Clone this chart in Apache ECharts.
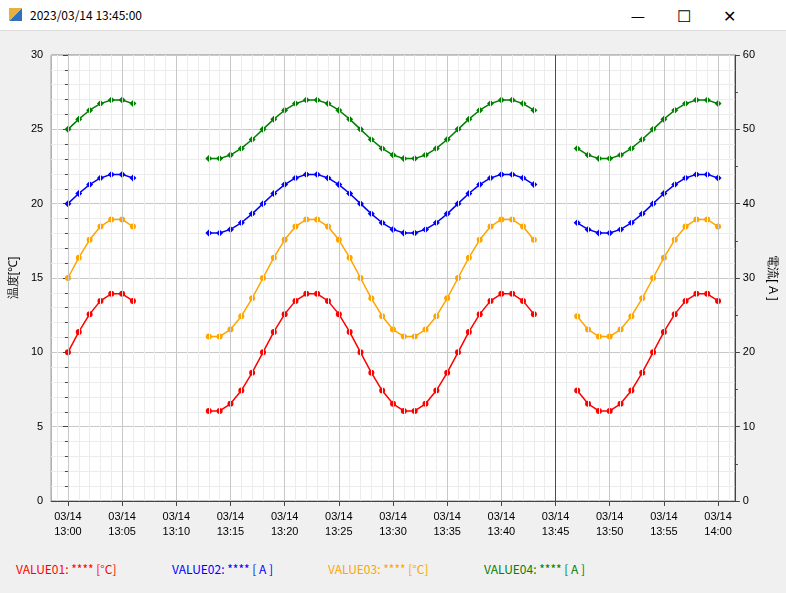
<!DOCTYPE html>
<html>
<head>
  <meta charset="utf-8">
  <script src="https://cdn.jsdelivr.net/npm/echarts@6/dist/echarts.min.js"></script>
  <style>
    body { margin: 0; width: 786px; height: 593px; background: #f0f0f0; font-family: "Noto Sans CJK JP", "Noto Sans", sans-serif; overflow: hidden; }
    .titlebar { height: 30px; background: #fff; border-bottom: 1px solid #ddd; font-size: 12px; line-height: 30px; padding-left: 30px; position: relative; }
    .titlebar .ico { position: absolute; left: 9px; top: 8px; width: 13px; height: 13px; background: linear-gradient(135deg, #e8b040 50%, #3070c0 50%); }
    .titlebar .btns { position: absolute; right: 18px; top: 0; font-size: 16px; letter-spacing: 32px; }
    #chart { width: 786px; height: 515px; }
    .legend { position: absolute; top: 560px; font-size: 12px; }
  </style>
</head>
<body>
  <div class="titlebar"><span class="ico"></span>2023/03/14 13:45:00<span class="btns">&#8212;&#9744;&#10005;</span></div>
  <div id="chart"></div>
  <div class="legend" style="left:16px;color:#ff0000">VALUE01: **** [°C]</div>
  <div class="legend" style="left:172px;color:#0000ff">VALUE02: **** [ A ]</div>
  <div class="legend" style="left:328px;color:#ffa500">VALUE03: **** [°C]</div>
  <div class="legend" style="left:484px;color:#008000">VALUE04: **** [ A ]</div>
  <script>
    // minutes after 13:00, one sample per minute (null = no data)
    var minutes = [];
    for (var i = 0; i <= 60; i++) minutes.push(i);
    var tickMinutes = [0, 5, 10, 15, 20, 25, 30, 35, 40, 45, 50, 55, 60];

    var value01 = [10, 11.37, 12.57, 13.46, 13.94, 13.94, 13.46, null, null, null, null, null, null,
      6.06, 6.06, 6.54, 7.43, 8.63, 10, 11.37, 12.57, 13.46, 13.94, 13.94, 13.46, 12.57, 11.37, 10, 8.63, 7.43,
      6.54, 6.06, 6.06, 6.54, 7.43, 8.63, 10, 11.37, 12.57, 13.46, 13.94, 13.94, 13.46, 12.57, null, null, null,
      7.43, 6.54, 6.06, 6.06, 6.54, 7.43, 8.63, 10, 11.37, 12.57, 13.46, 13.94, 13.94, 13.46];
    var value02 = [40, 41.37, 42.57, 43.46, 43.94, 43.94, 43.46, null, null, null, null, null, null,
      36.06, 36.06, 36.54, 37.43, 38.63, 40, 41.37, 42.57, 43.46, 43.94, 43.94, 43.46, 42.57, 41.37, 40, 38.63, 37.43,
      36.54, 36.06, 36.06, 36.54, 37.43, 38.63, 40, 41.37, 42.57, 43.46, 43.94, 43.94, 43.46, 42.57, null, null, null,
      37.43, 36.54, 36.06, 36.06, 36.54, 37.43, 38.63, 40, 41.37, 42.57, 43.46, 43.94, 43.94, 43.46];
    var value03 = [15, 16.37, 17.57, 18.46, 18.94, 18.94, 18.46, null, null, null, null, null, null,
      11.06, 11.06, 11.54, 12.43, 13.63, 15, 16.37, 17.57, 18.46, 18.94, 18.94, 18.46, 17.57, 16.37, 15, 13.63, 12.43,
      11.54, 11.06, 11.06, 11.54, 12.43, 13.63, 15, 16.37, 17.57, 18.46, 18.94, 18.94, 18.46, 17.57, null, null, null,
      12.43, 11.54, 11.06, 11.06, 11.54, 12.43, 13.63, 15, 16.37, 17.57, 18.46, 18.94, 18.94, 18.46];
    var value04 = [50, 51.37, 52.57, 53.46, 53.94, 53.94, 53.46, null, null, null, null, null, null,
      46.06, 46.06, 46.54, 47.43, 48.63, 50, 51.37, 52.57, 53.46, 53.94, 53.94, 53.46, 52.57, 51.37, 50, 48.63, 47.43,
      46.54, 46.06, 46.06, 46.54, 47.43, 48.63, 50, 51.37, 52.57, 53.46, 53.94, 53.94, 53.46, 52.57, null, null, null,
      47.43, 46.54, 46.06, 46.06, 46.54, 47.43, 48.63, 50, 51.37, 52.57, 53.46, 53.94, 53.94, 53.46];
    var cursorMinute = 45;

    function pairs(vals) {
      return minutes.map(function (m, i) { return [m, vals[i]]; });
    }
    function pad(n) { return n < 10 ? '0' + n : '' + n; }

    var chart = echarts.init(document.getElementById('chart'));
    var gridLine = { show: true, lineStyle: { color: '#c8c8c8', width: 1 } };
    var minorLine = { show: true, lineStyle: { color: '#ececec', width: 1 } };

    // vertical grid lines (the x axis is padded, so draw them per minute)
    var vLines = [];
    for (var m = -1; m <= 61; m++) {
      vLines.push({ xAxis: m, lineStyle: { color: m % 5 === 0 ? '#c8c8c8' : '#ececec', width: 1, type: 'solid' } });
    }

    function mk(name, vals, color, symbol, yIdx, extra) {
      var s = {
        name: name, type: 'line', yAxisIndex: yIdx, data: pairs(vals),
        symbol: symbol, symbolSize: symbol === 'diamond' ? 7 : 6,
        itemStyle: { color: color }, lineStyle: { color: color, width: 1.5 },
        connectNulls: false, animation: false, z: 3
      };
      return Object.assign(s, extra || {});
    }

    chart.setOption({
      backgroundColor: '#f0f0f0',
      animation: false,
      grid: { left: 48, right: 50, top: 24, bottom: 45, backgroundColor: '#fff', show: true, borderColor: '#888' },
      xAxis: {
        type: 'value', min: -1.55, max: 61.55,
        axisLine: { lineStyle: { color: '#444' } },
        axisTick: { show: true, length: 5, lineStyle: { color: '#444' }, customValues: tickMinutes },
        splitLine: { show: false },
        axisLabel: {
          color: '#000', fontSize: 11, lineHeight: 15, customValues: tickMinutes,
          formatter: function (v) { var h = 13 + Math.floor(v / 60); return '03/14\n' + h + ':' + pad(v % 60); }
        }
      },
      yAxis: [{
        type: 'value', min: 0, max: 30, interval: 5, name: '温度[℃]', nameLocation: 'middle', nameGap: 30,
        nameTextStyle: { color: '#000', fontSize: 12 },
        axisLine: { show: true, lineStyle: { color: '#444' } },
        axisTick: { show: true, length: 5 }, minorTick: { show: true, splitNumber: 5, length: 3 },
        splitLine: gridLine, minorSplitLine: minorLine,
        axisLabel: { color: '#000', fontSize: 11 }
      }, {
        type: 'value', min: 0, max: 60, interval: 10, name: '電流[ A ]', nameLocation: 'middle', nameGap: 30, nameRotate: -90,
        nameTextStyle: { color: '#000', fontSize: 12 },
        axisLine: { show: true, lineStyle: { color: '#444' } },
        axisTick: { show: true, length: 5 }, minorTick: { show: true, splitNumber: 2, length: 3 },
        splitLine: { show: false },
        axisLabel: { color: '#000', fontSize: 11 }
      }],
      series: [
        { type: 'line', data: [], z: 1, silent: true,
          markLine: { silent: true, symbol: 'none', label: { show: false }, animation: false, data: vLines } },
        mk('VALUE01', value01, '#ff0000', 'circle', 0, {
          markLine: { silent: true, symbol: 'none', label: { show: false }, animation: false,
            lineStyle: { color: '#ff0000', type: 'solid', width: 1 }, data: [{ xAxis: cursorMinute }] }
        }),
        mk('VALUE02', value02, '#0000ff', 'diamond', 1),
        mk('VALUE03', value03, '#ffa500', 'circle', 0),
        mk('VALUE04', value04, '#008000', 'diamond', 1)
      ]
    });
  </script>
</body>
</html>
